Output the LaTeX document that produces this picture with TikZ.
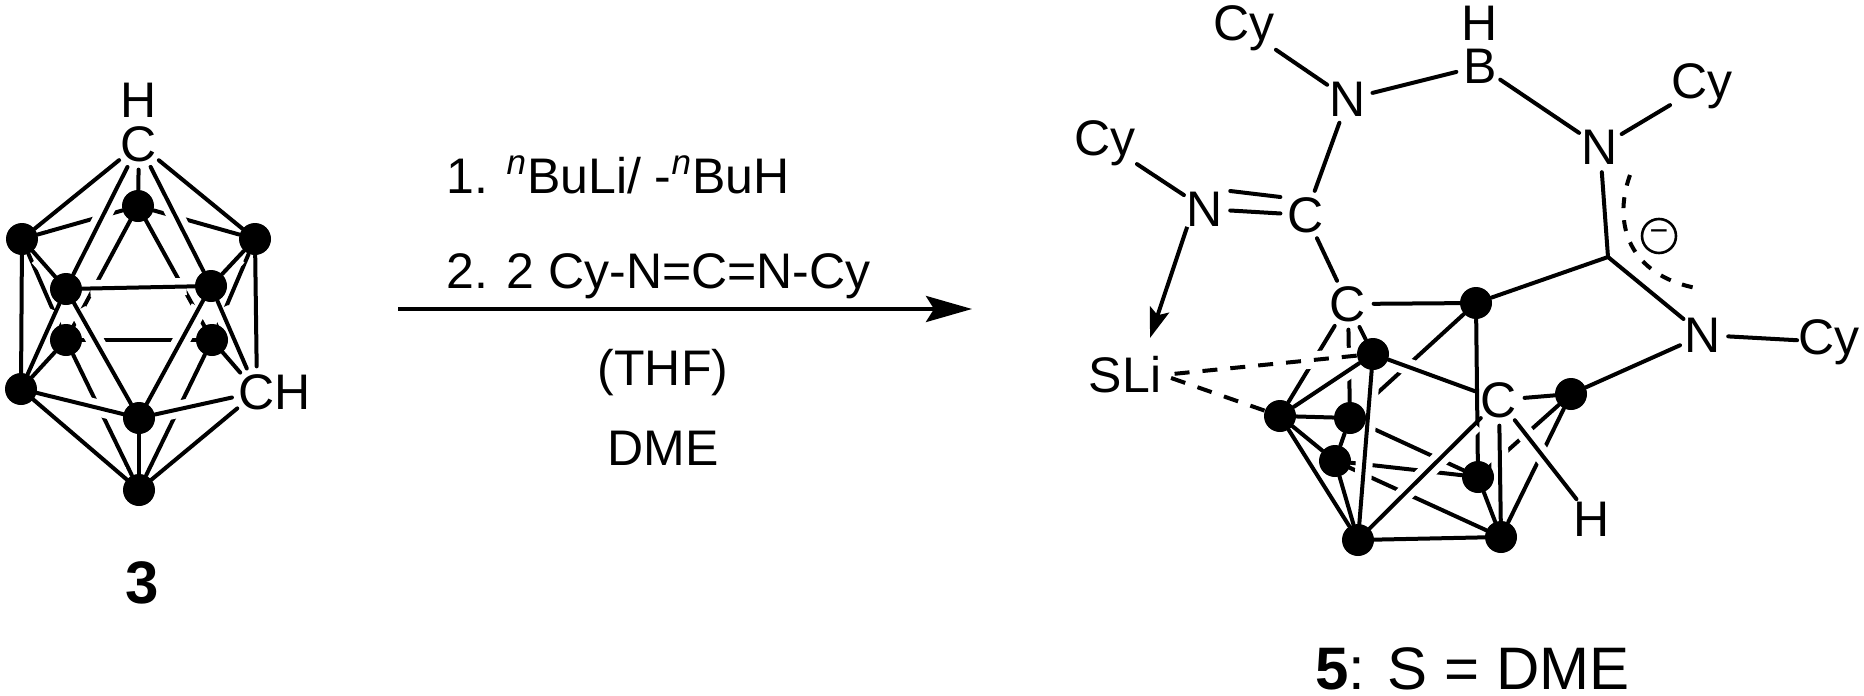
\documentclass[tikz,border=0pt]{standalone}
\usepackage{fontspec}
\setmainfont{Liberation Sans}
\usetikzlibrary{arrows.meta, backgrounds}

\tikzset{
  bond/.style={line width=2pt,line cap=round},
  halo/.style={white,line width=8.5pt,shorten <=4pt,shorten >=4pt},
  dsh/.style={line width=2pt,dash pattern=on 7.5pt off 6.5pt},
  ball/.style={circle,fill=black,inner sep=0pt,minimum size=16pt},
  atom/.style={circle,inner sep=0pt,minimum size=24pt,font=\fontsize{25}{25}\selectfont},
  lab/.style={inner sep=0.5pt,font=\fontsize{25}{25}\selectfont},
  cond/.style={inner sep=0pt,font=\fontsize{25}{25}\selectfont},
  big/.style={inner sep=0pt,font=\fontsize{30}{30}\selectfont}
}

\begin{document}
\begin{tikzpicture}[x=0.5pt,y=-0.5pt]
\useasboundingbox (0,0) rectangle (1864,696);

% Carborane 3
\node[lab] (ha) at (139,100) {H};
\node[atom] (ca) at (139,144) {C};
\node[ball] (b1) at (138,206) {};
\node[ball] (b2) at (22,239) {};
\node[ball] (b3) at (255,239) {};
\node[ball] (b4) at (66,289) {};
\node[ball] (b5) at (211,286) {};
\node[ball] (b6) at (66,340) {};
\node[ball] (b7) at (212,340) {};
\node[ball] (b8) at (21,389) {};
\node[atom] (ch) at (257,392) {C};
\node[lab] (hb) at (293,392) {H};
\node[ball] (b9) at (139,418) {};
\node[ball] (b10) at (139,490) {};
\node[big,anchor=base] (three) at (142,603) {\textbf{3}};

% Reaction arrow
\node[cond,anchor=base west] (step1) at (446,193) {1. \textsuperscript{\itshape n}BuLi/ -\textsuperscript{\itshape n}BuH};
\node[cond,anchor=base west] (step2) at (446,288) {2. 2 Cy-N=C=N-Cy};
\node[cond,anchor=base] (thf) at (663,385) {(THF)};
\node[cond,anchor=base] (dme) at (663,465) {DME};
\coordinate (r1) at (398,309);
\coordinate (r2) at (972,309);
\draw[line width=2pt,-{Stealth[length=23pt,width=13pt,inset=4pt]}] (r1) -- (r2);

% Product 5, chain
\node[lab] (cy1) at (1244,28) {Cy};
\node[lab] (hd) at (1480,23) {H};
\node[atom] (bo) at (1480,66) {B};
\node[atom] (n1) at (1348,99) {N};
\node[atom] (n2) at (1600,147) {N};
\node[lab] (cy2) at (1702,86) {Cy};
\node[lab] (cy3) at (1105,143) {Cy};
\node[atom] (n3) at (1205,209) {N};
\node[atom] (c1) at (1306,215) {C};
\node[atom] (c2) at (1348,304) {C};
\coordinate (cv) at (1608,257);
\node[atom] (n4) at (1703,335) {N};
\node[lab] (cy4) at (1829,342) {Cy};
\node[circle,draw,line width=1.3pt,minimum size=17pt,inner sep=0pt,font=\fontsize{16}{16}\selectfont] (neg) at (1659,236) {−};

% Product 5, cage
\node[lab] (sli) at (1125,375) {SLi};
\coordinate (liup) at (1150,338);
\node[ball] (dt) at (1476,303) {};
\node[ball] (da) at (1373,354) {};
\node[ball] (db) at (1280,416) {};
\node[ball] (dc) at (1350,418) {};
\node[ball] (dd) at (1335,461) {};
\node[atom] (c3) at (1499,400) {C};
\node[ball] (de) at (1571,394) {};
\node[ball] (df) at (1478,477) {};
\node[ball] (dg) at (1358,540) {};
\node[ball] (dh) at (1501,537) {};
\node[atom] (hc) at (1592,519) {H};
\node[big,anchor=base west] (five) at (1315,689) {\textbf{5}: S = DME};

\coordinate (arc1) at (1630,175);
\coordinate (arc2) at (1696,288);

\begin{pgfonlayer}{background}
% Hidden edges
\foreach \a/\b in {ca/b1,b1/b2,b1/b3,b1/b6,b1/b7,b2/b6,b3/b7,b6/b7,b6/b10,b7/b10,
    c2/db,c2/dc,dt/dc,dt/df,dc/df,dd/df,dd/dh,de/df,de/dh}
  \draw[bond] (\a) -- (\b);

% Front edges, white edge first
\foreach \a/\b in {ca/b2,ca/b3,ca/b4,ca/b5,b2/b4,b2/b8,b3/b5,b3/ch,b4/b5,b4/b8,b4/b9,b5/b9,b5/ch,b8/b9,b8/b10,ch/b9,ch/b10,b9/b10,b6/b8,b7/ch,
    da/c3,da/db,da/dg,db/dc,db/dd,db/dg,dc/dd,dd/dg,dg/c3,dg/dh,c3/de,c3/dh,c3/hc,df/dh}
  \draw[halo] (\a) -- (\b);
\draw[white,line width=8.5pt] (da) -- (sli.east);
\foreach \a/\b in {ca/b2,ca/b3,ca/b4,ca/b5,b2/b4,b2/b8,b3/b5,b3/ch,b4/b5,b4/b8,b4/b9,b5/b9,b5/ch,b8/b9,b8/b10,ch/b9,ch/b10,b9/b10,b6/b8,b7/ch,
    da/c3,da/db,da/dg,db/dc,db/dd,db/dg,dc/dd,dd/dg,dg/c3,dg/dh,c3/de,c3/dh,c3/hc,df/dh,
    cy1/n1,n1/bo,bo/n2,n2/cy2,n1/c1,c1/c2,n3/cy3,n3/c1,n2/cv,cv/n4,n4/cy4,n4/de,c2/dt,dt/cv,c2/da}
  \draw[bond] (\a) -- (\b);
\end{pgfonlayer}

% Second line of C=N
\draw[bond] ([yshift=9pt]n3.east) -- ([yshift=9pt]c1.west);

% Li contacts
\draw[dsh] (da) -- (sli.east);
\draw[dsh] (db) -- (sli.east);
\draw[line width=2pt,-{Stealth[length=15pt,width=10pt,inset=3pt]}] (n3.225) -- (liup);

% Delocalised charge
\draw[dsh,dash pattern=on 5.5pt off 6pt] (arc1) .. controls (1612,225) and (1630,275) .. (arc2);

\end{tikzpicture}
\end{document}
